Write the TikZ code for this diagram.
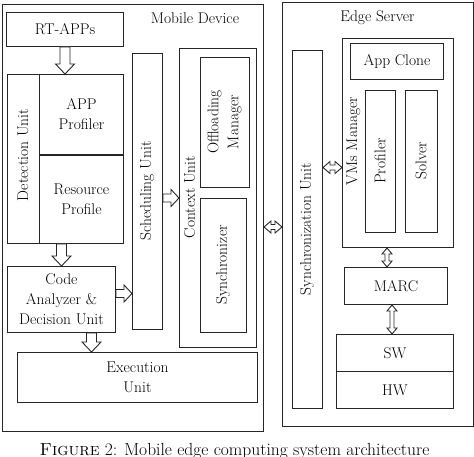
\documentclass[tikz,border=0pt]{standalone}
\usetikzlibrary{calc}
\newcommand{\fs}{\fontsize{15.5}{20}\selectfont}
\tikzset{
  box/.style={draw=black!85, line width=1pt, inner sep=0pt, align=center, font=\fs},
  lbl/.style={inner sep=0pt, align=center, font=\fs},
  rlbl/.style={lbl, rotate=90},
  blk/.style={draw=black!85, line width=0.9pt, fill=white, line join=miter},
}
% box from corners: name, x1, y1, x2, y2, text
\newcommand{\bx}[6]{\node[box, anchor=north west, minimum width={(#4-#2)*1pt}, minimum height={(#5-#3)*1pt}] (#1) at (#2,#3) {#6};}
% down block arrow between two points
\newcommand{\blkdown}[2]{\draw[blk] let \p1=(#1), \p2=(#2) in
  (\x1-5pt,\y1) -- (\x1+5pt,\y1) -- (\x1+5pt,\y2+10pt) -- (\x1+9.5pt,\y2+10pt) -- (\x1,\y2) -- (\x1-9.5pt,\y2+10pt) -- (\x1-5pt,\y2+10pt) -- cycle;}
\newcommand{\blkright}[2]{\draw[blk] let \p1=(#1), \p2=(#2) in
  (\x1,\y1+4pt) -- (\x2-8pt,\y1+4pt) -- (\x2-8pt,\y1+8.5pt) -- (\x2,\y1) -- (\x2-8pt,\y1-8.5pt) -- (\x2-8pt,\y1-4pt) -- (\x1,\y1-4pt) -- cycle;}
\newcommand{\dblh}[2]{\draw[blk] let \p1=(#1), \p2=(#2) in
  (\x1,\y1) -- (\x1+7pt,\y1+6pt) -- (\x1+7pt,\y1+2.5pt) -- (\x2-7pt,\y1+2.5pt) -- (\x2-7pt,\y1+6pt) -- (\x2,\y1) -- (\x2-7pt,\y1-6pt) -- (\x2-7pt,\y1-2.5pt) -- (\x1+7pt,\y1-2.5pt) -- (\x1+7pt,\y1-6pt) -- cycle;}
\newcommand{\dblv}[2]{\draw[blk] let \p1=(#1), \p2=(#2) in
  (\x1,\y1) -- (\x1+5pt,\y1-6pt) -- (\x1+2pt,\y1-6pt) -- (\x1+2pt,\y2+6pt) -- (\x1+5pt,\y2+6pt) -- (\x1,\y2) -- (\x1-5pt,\y2+6pt) -- (\x1-2pt,\y2+6pt) -- (\x1-2pt,\y1-6pt) -- (\x1-5pt,\y1-6pt) -- cycle;}
\begin{document}
\begin{tikzpicture}[x=1pt,y=-1pt]
\useasboundingbox (0,0) rectangle (474,457);
% outer boxes
\bx{mobile}{1.5}{4}{263}{431}{}
\bx{edge}{282}{2}{473}{426}{}
\node[lbl] (mdlbl) at (195,18) {Mobile Device};
\node[lbl] (eslbl) at (377.5,18) {Edge Server};
% mobile device
\bx{rt}{6}{12}{123}{46}{RT-APPs}
\bx{det}{7}{74}{123}{243}{}
\bx{app}{39}{74}{123}{154}{APP\\Profiler}
\bx{res}{39}{154}{123}{243}{Resource\\Profile}
\draw[draw=black!85, line width=2pt] (app.south west) -- (app.south east);
\node[rlbl] (detlbl) at (23,155) {Detection Unit};
\bx{sched}{132}{53}{162}{329}{}
\node[rlbl] (schedlbl) at (147,191) {Scheduling Unit};
\bx{ctx}{179}{48}{256}{347}{}
\node[rlbl] (ctxlbl) at (189.5,197) {Context Unit};
\bx{off}{200}{57}{249}{187}{}
\node[rlbl] (offlbl) at (224.5,122) {Offloading\\Manager};
\bx{syncr}{200}{198}{246}{332}{}
\node[rlbl] (syncrlbl) at (223,265) {Synchronizer};
\bx{code}{7}{266}{115}{332}{Code\\Analyzer \&\\Decision Unit}
\bx{exec}{17}{352}{257}{402}{Execution\\Unit}
% edge server
\bx{syncu}{292}{50}{322}{408}{}
\node[rlbl] (synculbl) at (307,229) {Synchronization Unit};
\bx{vms}{342}{38}{453}{247}{}
\node[rlbl] (vmslbl) at (353.5,141) {VMs Manager};
\bx{clone}{350}{43}{443}{79}{App Clone}
\bx{prof}{365}{90}{395}{232}{}
\node[rlbl] (proflbl) at (380,161) {Profiler};
\bx{solver}{405}{90}{437}{232}{}
\node[rlbl] (solverlbl) at (421,161) {Solver};
\bx{marc}{344}{267}{447}{304}{MARC}
\bx{sw}{336}{334}{453}{371}{SW}
\bx{hw}{336}{371}{453}{408}{HW}
% arrow anchor points
\coordinate (c1) at ([xshift=30pt]code.south);
\coordinate (c2) at ([yshift=6pt]code.east);
\coordinate (c3) at ([yshift=-9pt]mobile.east);
\coordinate (c4) at ([yshift=62pt]syncu.east);
\coordinate (c5) at ([xshift=-9pt]marc.north);
\coordinate (c6) at ([xshift=-4pt]marc.south);
% block arrows
\blkdown{rt.south}{rt.south |- det.north}
\blkdown{det.south -| code.north}{code.north}
\blkdown{c1}{exec.north -| c1}
\blkright{c2}{sched.west |- c2}
\blkright{sched.east |- ctx.west}{ctx.west}
\dblh{c3}{edge.west |- c3}
\dblh{c4}{vms.west |- c4}
\dblv{vms.south -| c5}{c5}
\dblv{c6}{sw.north -| c6}
% caption
\node[inner sep=0pt, font=\fontsize{17.5}{20}\selectfont, anchor=base] (cap) at (234.5,455) {\textsc{Figure} 2: Mobile edge computing system architecture};
\end{tikzpicture}
\end{document}
